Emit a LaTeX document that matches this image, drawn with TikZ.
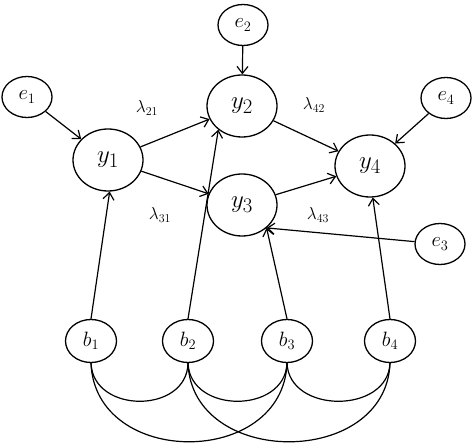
\documentclass[tikz,border=0pt]{standalone}
\usetikzlibrary{shapes.geometric,arrows.meta}
\begin{document}
\begin{tikzpicture}[x=1pt,y=-1pt,
  big/.style={draw,ellipse,line width=1.3pt,minimum width=70pt,minimum height=62pt,inner sep=0pt,font=\fontsize{28}{30}\selectfont},
  small/.style={draw,ellipse,line width=1.3pt,minimum width=50pt,minimum height=41pt,inner sep=0pt,font=\fontsize{22}{24}\selectfont},
  bnode/.style={draw,ellipse,line width=1.3pt,minimum width=51pt,minimum height=43pt,inner sep=0pt,font=\fontsize{21}{23}\selectfont},
  arr/.style={line width=1.2pt,-{Straight Barb[length=7pt,width=11pt]}},
  cov/.style={line width=1.2pt},
  lab/.style={font=\fontsize{18}{20}\selectfont}]
\useasboundingbox (0,0) rectangle (474,443);
\node[small] (e1) at (27,97) {$e_1$};
\node[small] (e2) at (243,25) {$e_2$};
\node[small] (e4) at (446,98) {$e_4$};
\node[small] (e3) at (440,244) {$e_3$};
\node[big] (y1) at (108,160) {$y_1$};
\node[big] (y2) at (242,106) {$y_2$};
\node[big] (y3) at (242,205) {$y_3$};
\node[big] (y4) at (370,166) {$y_4$};
\node[bnode] (b1) at (91,341) {$b_1$};
\node[bnode] (b2) at (188,341) {$b_2$};
\node[bnode] (b3) at (287,341) {$b_3$};
\node[bnode] (b4) at (390,341) {$b_4$};
\draw[arr] (e1) -- (y1);
\draw[arr] (e2) -- (y2);
\draw[arr] (e4) -- (y4);
\draw[arr] (e3) -- (y3.-43);
\draw[arr] (y1) -- (y2);
\draw[arr] (y1) -- (y3);
\draw[arr] (y2) -- (y4);
\draw[arr] (y3) -- (y4);
\draw[arr] (b1.north) -- (y1.-87);
\draw[arr] (b2.north) -- (y2.-135);
\draw[arr] (b3.north) -- (y3.-43);
\draw[arr] (b4.north) -- (y4.-85);
\node[lab] (l21) at (147,108) {$\lambda_{21}$};
\node[lab] (l42) at (314,105) {$\lambda_{42}$};
\node[lab] (l31) at (160,215) {$\lambda_{31}$};
\node[lab] (l43) at (318,215) {$\lambda_{43}$};
\draw[cov] (b1.south) .. controls (93,414) and (187,414) .. (b2.south);
\draw[cov] (b2.south) .. controls (190,414) and (285,414) .. (b3.south);
\draw[cov] (b3.south) .. controls (289,414) and (388,414) .. (b4.south);
\draw[cov] (b1.south) .. controls (95,468) and (283,468) .. (b3.south);
\draw[cov] (b2.south) .. controls (192,468) and (386,468) .. (b4.south);
\end{tikzpicture}
\end{document}
